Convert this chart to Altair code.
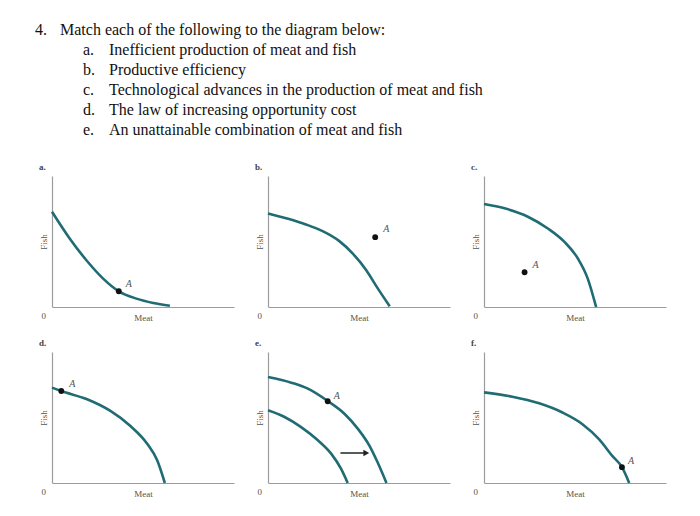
import altair as alt
import pandas as pd

SERIF = "Liberation Serif"
TEAL = "#1f6c74"
AXIS_GRAY = "#9c9c9c"
TEXT_GRAY = "#555555"

# ---------------- header text ----------------
QUESTION_NUM = "4."
QUESTION = "Match each of the following to the diagram below:"
ITEM_LETTERS = ["a.", "b.", "c.", "d.", "e."]
ITEM_TEXTS = [
    "Inefficient production of meat and fish",
    "Productive efficiency",
    "Technological advances in the production of meat and fish",
    "The law of increasing opportunity cost",
    "An unattainable combination of meat and fish",
]

# ---------------- panel data (Meat on x, Fish on y, 0-100 scale) ----------------
A_MEAT = [0, 9.7, 18.9, 28.1, 36.7, 46.4, 55.6, 64.8]
A_FISH = [72.7, 52.3, 35.7, 21.7, 12.0, 6.4, 3.1, 1.0]
A_POINT = (36.7, 12.0)

B_MEAT = [0, 11.6, 20.8, 30.0, 39.2, 46.6, 54.0, 60.4, 66.9]
B_FISH = [71.4, 67.1, 63.0, 57.9, 50.3, 40.8, 28.1, 14.0, 0.5]
B_POINT = (58.9, 53.3)

C_MEAT = [0, 11.3, 24.1, 35.1, 44.2, 51.6, 57.0, 61.6]
C_FISH = [78.6, 75.3, 68.9, 59.9, 49.7, 37.0, 21.7, 0]
C_POINT = (22.3, 26.5)

D_MEAT = [0, 5.1, 19.3, 32.1, 43.1, 52.3, 57.8, 62.0]
D_FISH = [72.8, 70.2, 63.9, 55.0, 43.5, 30.0, 17.3, 0]
D_POINT = (5.1, 70.2)

E_OUTER_MEAT = [0, 12.8, 21.9, 32.8, 42.0, 49.3, 55.7, 60.2, 65.1]
E_OUTER_FISH = [80.9, 76.6, 72.0, 62.6, 52.9, 41.5, 28.5, 15.8, 0]
E_INNER_MEAT = [0, 9.1, 18.2, 27.4, 34.7, 40.1, 43.8]
E_INNER_FISH = [55.5, 50.4, 42.7, 32.6, 22.4, 10.9, 0]
E_POINT = (32.8, 62.4)
E_ARROW_MEAT = [39.8, 54.0]
E_ARROW_FISH = 22.9

F_MEAT = [0, 15.6, 30.3, 43.1, 54.1, 63.3, 70.6, 75.8, 79.8]
F_FISH = [69.2, 65.9, 60.8, 53.8, 44.9, 33.3, 20.5, 12.1, 0]
F_POINT = (75.8, 12.1)

PW, PH = 182, 131


def x_enc(field):
    return alt.X(
        field,
        type="quantitative",
        scale=alt.Scale(domain=[0, 100], nice=False, zero=False),
        axis=alt.Axis(
            title="Meat",
            values=[0],
            labelExpr="'0'",
            labelFlush=True,
            labelFlushOffset=11,
            ticks=False,
            grid=False,
            domainColor=AXIS_GRAY,
            domainWidth=1.2,
            labelPadding=4,
            labelFont=SERIF,
            labelFontSize=9,
            labelColor=TEXT_GRAY,
            titleFont=SERIF,
            titleFontSize=9,
            titleFontWeight="normal",
            titleColor=TEXT_GRAY,
            titleY=10,
            titleBaseline="middle",
        ),
    )


def y_enc(field):
    return alt.Y(
        field,
        type="quantitative",
        scale=alt.Scale(domain=[0, 100], nice=False, zero=False),
        axis=alt.Axis(
            title="Fish",
            labels=False,
            ticks=False,
            grid=False,
            domainColor=AXIS_GRAY,
            domainWidth=1.2,
            titleFont=SERIF,
            titleFontSize=9,
            titleFontWeight="normal",
            titleColor=TEXT_GRAY,
            titleX=-9,
            titleY=PH / 2,
            titleAngle=270,
            titleAlign="center",
            titleBaseline="middle",
        ),
    )


def panel(letter, curves, point, label_dx, label_dy, arrow=None):
    rows = []
    for name, (ms, fs) in curves.items():
        for m, f in zip(ms, fs):
            rows.append({"curve": name, "meat": m, "fish": f})
    curve_df = pd.DataFrame(rows)
    point_df = pd.DataFrame([{"meat": point[0], "fish": point[1], "label": "A"}])

    lines = alt.Chart(curve_df).mark_line(
        color=TEAL, strokeWidth=2.6, interpolate="monotone"
    ).encode(x=x_enc("meat"), y=y_enc("fish"), detail="curve:N")

    dot = alt.Chart(point_df).mark_circle(color="#111111", size=34, opacity=1).encode(
        x="meat:Q", y="fish:Q"
    )
    lab = alt.Chart(point_df).mark_text(
        font=SERIF, fontSize=10, fontStyle="italic", color=TEXT_GRAY,
        dx=label_dx, dy=label_dy,
    ).encode(x="meat:Q", y="fish:Q", text="label:N")

    layers = [lines, dot, lab]
    if arrow is not None:
        a_df = pd.DataFrame([{"m1": arrow[0][0], "m2": arrow[0][1], "fish": arrow[1]}])
        rule = alt.Chart(a_df).mark_rule(color="#222222", strokeWidth=1.5).encode(
            x="m1:Q", x2="m2", y="fish:Q"
        )
        head = alt.Chart(a_df).mark_point(
            shape="triangle-right", filled=True, color="#222222", size=45, opacity=1
        ).encode(x="m2:Q", y="fish:Q")
        layers += [rule, head]

    return alt.layer(*layers).properties(
        width=PW,
        height=PH,
        title=alt.TitleParams(
            letter, anchor="start", font=SERIF, fontSize=9, fontWeight="bold",
            color="#444444", offset=4,
        ),
    )


pa = panel("a.", {"a": (A_MEAT, A_FISH)}, A_POINT, 10, -7)
pb = panel("b.", {"b": (B_MEAT, B_FISH)}, B_POINT, 11, -8)
pc = panel("c.", {"c": (C_MEAT, C_FISH)}, C_POINT, 11, -7)
pd_ = panel("d.", {"d": (D_MEAT, D_FISH)}, D_POINT, 11, -7)
pe = panel(
    "e.",
    {"outer": (E_OUTER_MEAT, E_OUTER_FISH), "inner": (E_INNER_MEAT, E_INNER_FISH)},
    E_POINT, 9, -5,
    arrow=(E_ARROW_MEAT, E_ARROW_FISH),
)
pf = panel("f.", {"f": (F_MEAT, F_FISH)}, F_POINT, 9, -6)

# ---------------- header ----------------
head_df = pd.DataFrame(
    [{"line": 0, "num": QUESTION_NUM, "text": QUESTION}]
    + [{"line": i + 1, "num": l, "text": t} for i, (l, t) in enumerate(zip(ITEM_LETTERS, ITEM_TEXTS))]
)
HEAD_W = 3 * PW + 2 * 34
y_head = alt.Y("line:Q", scale=alt.Scale(domain=[0, 5], range=[0, 100]), axis=None)
hbase = alt.Chart(head_df).mark_text(
    font=SERIF, fontSize=16, color="#111111", align="left", baseline="middle"
)
h1 = hbase.transform_filter("datum.line == 0").encode(y=y_head, x=alt.value(-17), text="num:N")
h2 = hbase.transform_filter("datum.line == 0").encode(y=y_head, x=alt.value(8), text="text:N")
h3 = hbase.transform_filter("datum.line > 0").encode(y=y_head, x=alt.value(31), text="num:N")
h4 = hbase.transform_filter("datum.line > 0").encode(y=y_head, x=alt.value(57), text="text:N")
header = alt.layer(h1, h2, h3, h4).properties(width=HEAD_W, height=100)

grid = alt.concat(
    pa, pb, pc, pd_, pe, pf,
    columns=3,
    spacing={"row": 45, "column": 34},
    bounds="flush",
)

chart = (
    alt.vconcat(header, grid, spacing=25)
    .properties(padding={"left": 27, "top": 14, "right": 5, "bottom": 5}, background="white")
    .configure_view(strokeWidth=0)
)

chart.save("out.html", embed_options={"renderer": "svg", "actions": False})
